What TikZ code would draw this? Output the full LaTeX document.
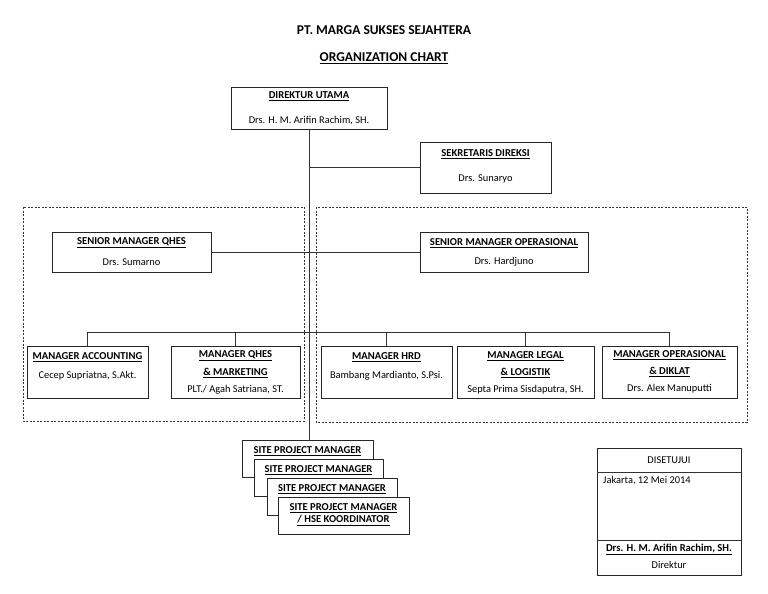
\documentclass[tikz,border=0pt]{standalone}
\usepackage{fontspec}
\setmainfont{Carlito}
\usepackage{tikz}

\newcommand{\ulb}[1]{\underline{\textbf{#1}}}

\begin{document}
\begin{tikzpicture}[x=1pt, y=-1pt,
  box/.style={draw=black!85, line width=0.8pt, fill=white, inner sep=0pt},
  ttl/.style={font=\fontsize{10.6}{12}\selectfont, inner sep=0pt},
  nm/.style={font=\fontsize{10.4}{12}\selectfont, inner sep=0pt},
  grp/.style={draw=black!80, line width=0.7pt, dash pattern=on 2pt off 1.5pt},
  wire/.style={draw=black!80, line width=0.8pt}]
\useasboundingbox (0,0) rectangle (768,594);

\node[font=\fontsize{13.5}{15}\selectfont\bfseries] (title) at (384,30) {PT. MARGA SUKSES SEJAHTERA};
\node[font=\fontsize{13.5}{15}\selectfont] (subtitle) at (384,58) {\ulb{ORGANIZATION CHART}};

\draw[grp] (23,207) rectangle (304,421);
\draw[grp] (316,207) rectangle (747,422);

\node[box, minimum width=156, minimum height=42] (dirut) at (309,108) {};
\node[ttl] (dirutT) at (309,96) {\ulb{DIREKTUR UTAMA}};
\node[nm] (dirutN) at (309,121) {Drs. H. M. Arifin Rachim, SH.};

\node[box, minimum width=131, minimum height=51] (sekdir) at (485.5,167.5) {};
\node[ttl] (sekdirT) at (485.5,154) {\ulb{SEKRETARIS DIREKSI}};
\node[nm] (sekdirN) at (485.5,179) {Drs. Sunaryo};

\node[box, minimum width=159, minimum height=40] (smqhes) at (131.5,252.5) {};
\node[ttl] (smqhesT) at (131.5,243) {\ulb{SENIOR MANAGER QHES}};
\node[nm] (smqhesN) at (131.5,262) {Drs. Sumarno};

\node[box, minimum width=168, minimum height=40] (smops) at (504,252.5) {};
\node[ttl] (smopsT) at (504,243) {\ulb{SENIOR MANAGER OPERASIONAL}};
\node[nm] (smopsN) at (504,262) {Drs. Hardjuno};

\node[box, minimum width=121, minimum height=52] (acc) at (87.5,372) {};
\node[ttl] (accT) at (87.5,357) {\ulb{MANAGER ACCOUNTING}};
\node[nm] (accN) at (87.5,376) {Cecep Supriatna, S.Akt.};

\node[box, minimum width=129, minimum height=52] (qm) at (235.5,372) {};
\node[ttl] (qmT) at (235.5,356) {\ulb{MANAGER QHES}};
\node[ttl] (qmT2) at (235.5,373) {\ulb{\& MARKETING}};
\node[nm] (qmN) at (235.5,390) {PLT./ Agah Satriana, ST.};

\node[box, minimum width=131, minimum height=52] (hrd) at (386.5,372) {};
\node[ttl] (hrdT) at (386.5,357) {\ulb{MANAGER HRD}};
\node[nm] (hrdN) at (386.5,376) {Bambang Mardianto, S.Psi.};

\node[box, minimum width=137, minimum height=52] (legal) at (525.5,372) {};
\node[ttl] (legalT) at (525.5,356) {\ulb{MANAGER LEGAL}};
\node[ttl] (legalT2) at (525.5,373) {\ulb{\& LOGISTIK}};
\node[nm] (legalN) at (525.5,390) {Septa Prima Sisdaputra, SH.};

\node[box, minimum width=135, minimum height=52] (opd) at (669.5,372) {};
\node[ttl] (opdT) at (669.5,355) {\ulb{MANAGER OPERASIONAL}};
\node[ttl] (opdT2) at (669.5,372) {\ulb{\& DIKLAT}};
\node[nm] (opdN) at (669.5,389) {Drs. Alex Manuputti};

\node[box, minimum width=131, minimum height=37] (site1) at (307.5,458.5) {};
\node[ttl] (site1T) at (307.5,451) {\ulb{SITE PROJECT MANAGER}};
\node[box, minimum width=129, minimum height=37] (site2) at (318.5,477.5) {};
\node[ttl] (site2T) at (318.5,470) {\ulb{SITE PROJECT MANAGER}};
\node[box, minimum width=130, minimum height=37] (site3) at (332,496.5) {};
\node[ttl] (site3T) at (332,489) {\ulb{SITE PROJECT MANAGER}};
\node[box, minimum width=131, minimum height=37] (site4) at (343.5,515.5) {};
\node[ttl] (site4T) at (343.5,508) {\ulb{SITE PROJECT MANAGER}};
\node[ttl] (site4T2) at (343.5,520.5) {\ulb{/ HSE KOORDINATOR}};

\coordinate (bus) at (0,332);
\draw[wire] (dirut.south) -- (dirut.south |- site1.north);
\draw[wire] (dirut.south |- sekdir.west) -- (sekdir.west);
\draw[wire] (smqhes.east) -- (smops.west);
\draw[wire] (acc.north |- bus) -- (opd.north |- bus);
\foreach \m in {acc,qm,hrd,legal,opd}
  \draw[wire] (\m.north) -- (\m.north |- bus);

\node[box, minimum width=144, minimum height=127] (setuju) at (669,511.5) {};
\draw[wire] (597,472) -- (741,472);
\draw[wire] (597,540) -- (741,540);
\node[nm] (setujuT) at (669,460) {DISETUJUI};
\node[nm, anchor=west] (tanggal) at (603,481) {Jakarta, 12 Mei 2014};
\node[ttl] (ttd) at (669,549) {\ulb{Drs. H. M. Arifin Rachim, SH.}};
\node[nm] (jabatan) at (669,565) {Direktur};
\end{tikzpicture}
\end{document}
